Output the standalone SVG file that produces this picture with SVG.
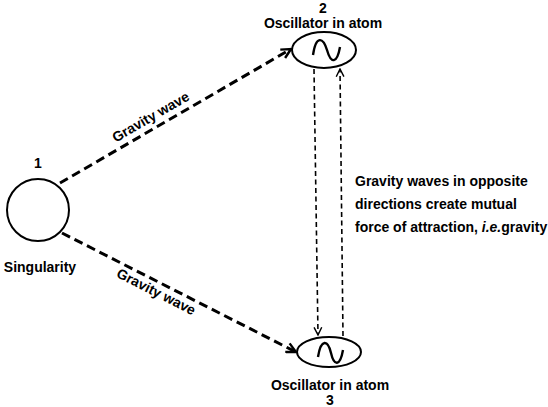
<svg xmlns="http://www.w3.org/2000/svg" width="548" height="407" viewBox="0 0 548 407">
<style>
text{font-family:"Liberation Sans","Open Sans",sans-serif;font-weight:bold;font-size:14px;fill:#000}
.node{fill:#fff;stroke:#000;stroke-width:2}
.wave{fill:none;stroke:#000;stroke-width:2.4}
.thick{fill:none;stroke:#000;stroke-width:3;stroke-dasharray:9,5}
.thin{fill:none;stroke:#000;stroke-width:1.6;stroke-dasharray:5,3.5}
</style>
<defs>
<marker id="ah" viewBox="0 0 10 10" refX="9" refY="5" markerWidth="4" markerHeight="4" orient="auto" markerUnits="strokeWidth">
<path d="M1,1 L9,5 L1,9" fill="none" stroke="#000" stroke-width="2"/>
</marker>
<marker id="ahs" viewBox="0 0 10 10" refX="9" refY="5" markerWidth="6" markerHeight="6" orient="auto" markerUnits="strokeWidth">
<path d="M1,1 L9,5 L1,9" fill="none" stroke="#000" stroke-width="1.5"/>
</marker>
</defs>
<g id="connectors">
<line class="thick" x1="60" y1="183" x2="291" y2="49" marker-end="url(#ah)"/>
<line class="thick" x1="62" y1="233" x2="296" y2="352" marker-end="url(#ah)"/>
<line class="thin" x1="314" y1="69" x2="318" y2="335" marker-end="url(#ahs)"/>
<line class="thin" x1="343" y1="336" x2="340" y2="69" marker-end="url(#ahs)"/>
<text transform="translate(153,121) rotate(-30.1)" text-anchor="middle">Gravity wave</text>
<text transform="translate(154,296) rotate(26.9)" text-anchor="middle">Gravity wave</text>
</g>
<g id="node1">
<circle class="node" cx="38" cy="210" r="31"/>
<text x="38" y="168" text-anchor="middle">1</text>
<text x="40" y="272" text-anchor="middle">Singularity</text>
</g>
<g id="node2">
<ellipse class="node" cx="324" cy="50" rx="32" ry="18"/>
<path class="wave" d="M313,55 C316,35 323,37 327,50 C331,64 337,64 340,47"/>
<text x="323" y="13" text-anchor="middle">2</text>
<text x="323" y="28" text-anchor="middle">Oscillator in atom</text>
</g>
<g id="node3">
<ellipse class="node" cx="329" cy="352" rx="32" ry="15"/>
<path class="wave" d="M318,357 C321,338 328,340 331,353 C334,366 340,367 343,350"/>
<text x="330" y="390" text-anchor="middle">Oscillator in atom</text>
<text x="330" y="405" text-anchor="middle">3</text>
</g>
<g id="note">
<text x="355" y="186">Gravity waves in opposite</text>
<text x="355" y="209">directions create mutual</text>
<text x="355" y="232">force of attraction, <tspan font-style="italic">i.e.</tspan>gravity</text>
</g>
</svg>
